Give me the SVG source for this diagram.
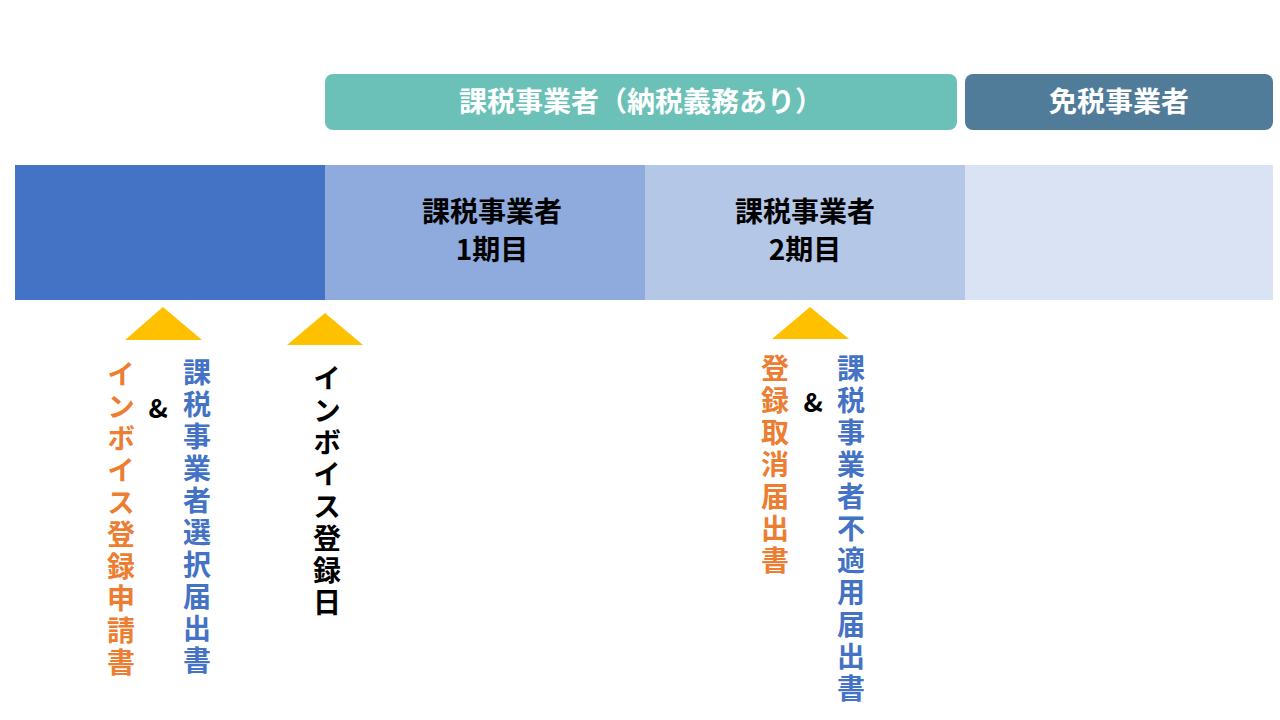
<svg xmlns="http://www.w3.org/2000/svg" width="1280" height="720" viewBox="0 0 1280 720">
<style>
text{font-family:"Noto Sans CJK JP","Noto Sans",sans-serif;font-weight:bold}
.h{font-size:28px;fill:#fff;text-anchor:middle}
.b{font-size:28px;fill:#000;text-anchor:middle}
.v{font-size:28px;writing-mode:vertical-rl;letter-spacing:4px}
.o{fill:#ED7D31}.bl{fill:#4472C4}.k{fill:#000}
.tri{fill:#FFC000}
</style>
<rect width="1280" height="720" fill="#fff"/>
<g id="header1"><rect x="325" y="74" width="632" height="56" rx="8" fill="#6BC1B7"/><text class="h" x="641" y="112">課税事業者（納税義務あり）</text></g>
<g id="header2"><rect x="965" y="74" width="308" height="56" rx="8" fill="#507C9A"/><text class="h" x="1119" y="112">免税事業者</text></g>
<g id="seg0"><rect x="15" y="165" width="310" height="135" fill="#4472C4"/></g>
<g id="seg1"><rect x="325" y="165" width="320" height="135" fill="#8FAADC"/><text class="b" x="492" y="222">課税事業者</text><text class="b" x="492" y="260">1期目</text></g>
<g id="seg2"><rect x="645" y="165" width="320" height="135" fill="#B4C7E7"/><text class="b" x="805" y="222">課税事業者</text><text class="b" x="805" y="260">2期目</text></g>
<g id="seg3"><rect x="965" y="165" width="308" height="135" fill="#DAE3F3"/></g>
<g id="markers">
<polygon class="tri" points="125,340 202,340 163,307"/>
<polygon class="tri" points="287,345 363,345 325,313"/>
<polygon class="tri" points="772,339 849,339 810,307"/>
</g>
<g id="labels">
<text class="v o" x="121" y="360">インボイス登録申請書</text>
<text class="b" x="158" y="418" style="font-size:26px">&amp;</text>
<text class="v bl" x="197" y="358">課税事業者選択届出書</text>
<text class="v k" x="327" y="364">インボイス登録日</text>
<text class="v o" x="775" y="354">登録取消届出書</text>
<text class="b" x="813" y="412" style="font-size:26px">&amp;</text>
<text class="v bl" x="851" y="354">課税事業者不適用届出書</text>
</g>
</svg>
